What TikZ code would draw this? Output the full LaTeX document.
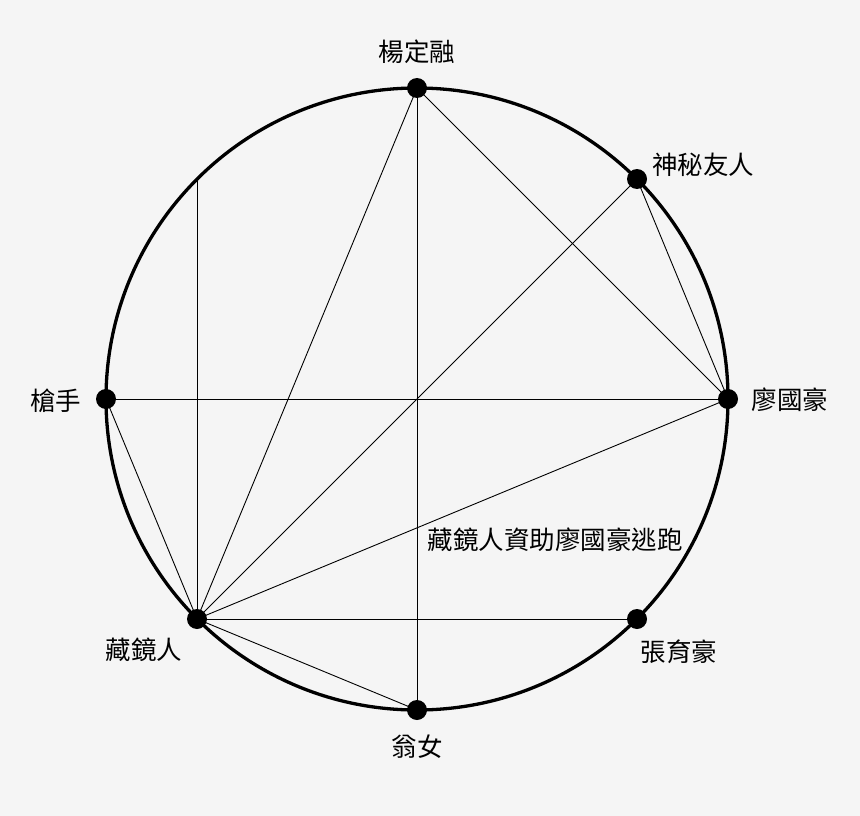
\documentclass[tikz,border=0pt]{standalone}
\usepackage{fontspec}
\newfontfamily\cjk{Noto Sans CJK TC}
\definecolor{bg}{RGB}{245,245,245}
\begin{document}
\begin{tikzpicture}[x=1pt,y=-1pt,
  dotnode/.style={circle,fill=black,inner sep=0pt,minimum size=20pt},
  lbl/.style={font=\cjk\fontsize{25.5}{28}\selectfont,inner sep=0pt},
  edge/.style={draw=black,line width=0.9pt}]
\fill[bg] (0,0) rectangle (860,816);
\useasboundingbox (0,0) rectangle (860,816);
\coordinate (O) at (417,399);
\draw[line width=3.3pt] (O) circle[radius=311];
% points
\coordinate (yangP) at (417,88);
\coordinate (shenP) at (637,179);
\coordinate (liaoP) at (728,399);
\coordinate (zhangP) at (637,619);
\coordinate (wengP) at (417,710);
\coordinate (zangP) at (197,619);
\coordinate (qiangP) at (106,399);
\coordinate (ul) at (197,179);
% edges
\draw[edge] (yangP) -- (wengP);
\draw[edge] (yangP) -- (zangP);
\draw[edge] (yangP) -- (liaoP);
\draw[edge] (shenP) -- (zangP);
\draw[edge] (shenP) -- (liaoP);
\draw[edge] (qiangP) -- (liaoP);
\draw[edge] (qiangP) -- (zangP);
\draw[edge] (liaoP) -- (zangP);
\draw[edge] (zangP) -- (zhangP);
\draw[edge] (zangP) -- (wengP);
\draw[edge] (ul) -- (zangP);
% dots
\node[dotnode] (yang) at (yangP) {};
\node[dotnode] (shen) at (shenP) {};
\node[dotnode] (liao) at (liaoP) {};
\node[dotnode] (zhang) at (zhangP) {};
\node[dotnode] (weng) at (wengP) {};
\node[dotnode] (zang) at (zangP) {};
\node[dotnode] (qiang) at (qiangP) {};
% labels
\node[lbl] (yangL) at (417,52) {楊定融};
\node[lbl] (shenL) at (703,165) {神秘友人};
\node[lbl] (liaoL) at (790,400) {廖國豪};
\node[lbl] (zhangL) at (679,652) {張育豪};
\node[lbl] (wengL) at (417,747) {翁女};
\node[lbl] (zangL) at (144,650) {藏鏡人};
\node[lbl] (qiangL) at (56,401) {槍手};
\node[lbl] (edgeL) at (555,540) {藏鏡人資助廖國豪逃跑};
\end{tikzpicture}
\end{document}
